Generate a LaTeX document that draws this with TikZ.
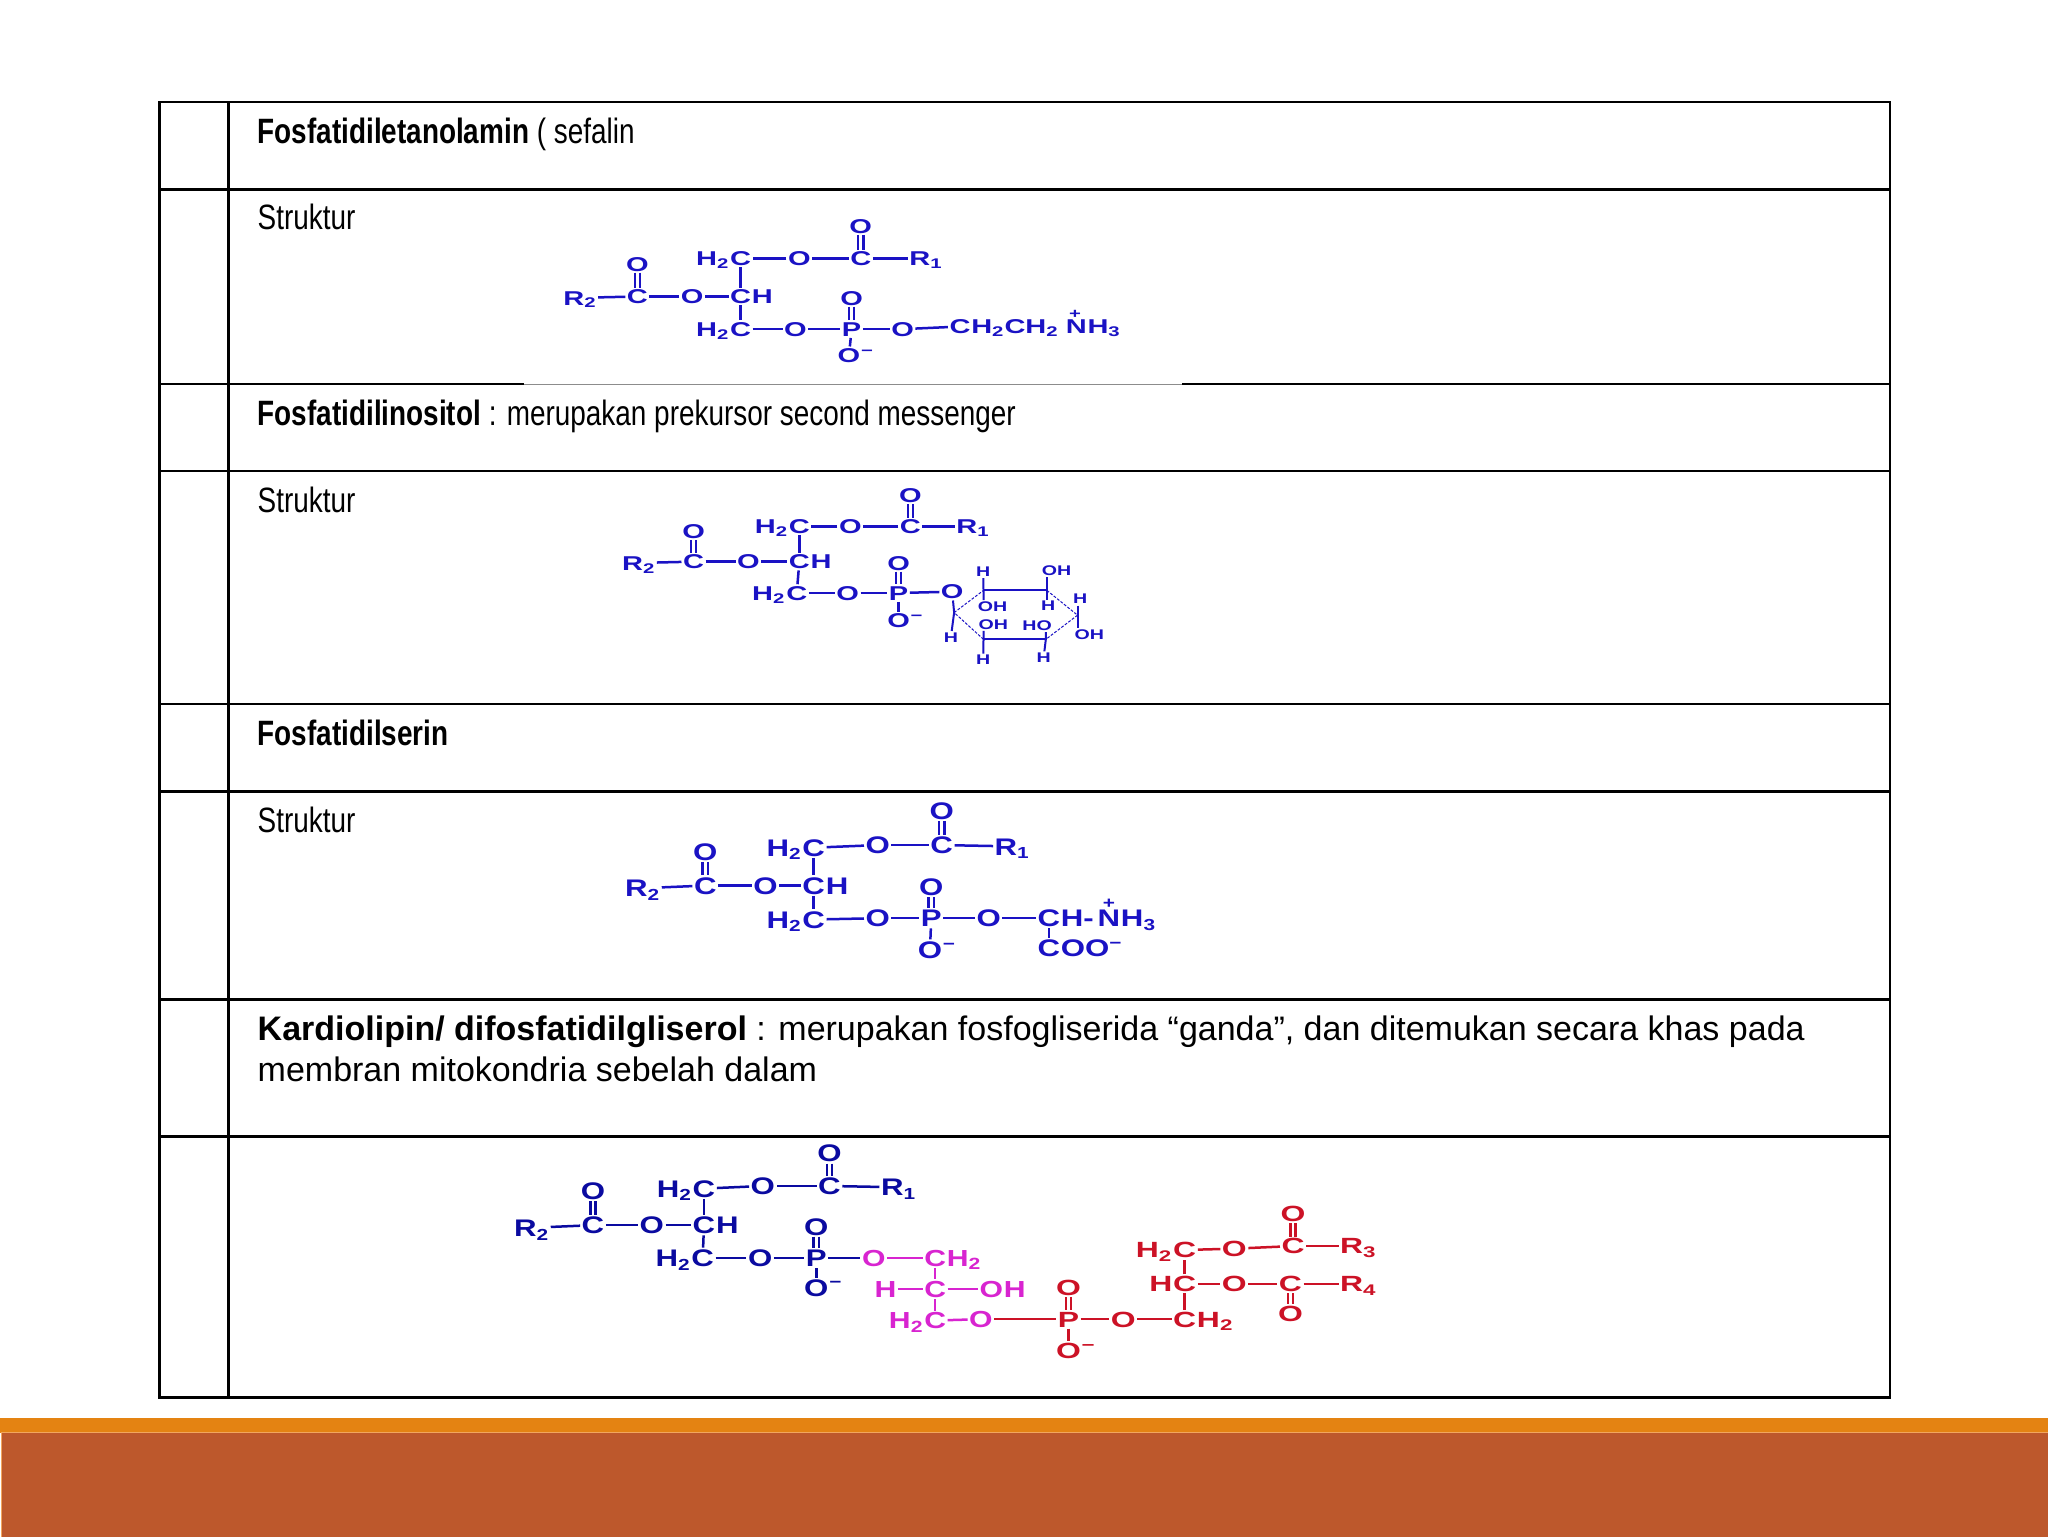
\documentclass[tikz,border=0pt]{standalone}
\usepackage{fontspec}
\setmainfont{Liberation Sans}
\newfontfamily\narrowf[FakeStretch=0.793]{Liberation Sans}
\newfontfamily\molwide[FakeStretch=1.45]{Liberation Sans}
\newfontfamily\molmid[FakeStretch=1.3]{Liberation Sans}
\newfontfamily\ringfont[FakeStretch=1.4]{Liberation Sans}
\definecolor{orangeband}{HTML}{E48312}
\definecolor{brownband}{HTML}{BD582C}
\definecolor{edgeband}{HTML}{F2A65E}
\definecolor{mblue}{HTML}{1A12C4}
\definecolor{mbluedark}{HTML}{0A0AA0}
\definecolor{mmag}{HTML}{D824D0}
\definecolor{mred}{HTML}{CC1226}
\def\molsz{10}
\def\molf{\molmid}
\def\asep{0.6pt}
\tikzset{
  x=0.65306pt,y=-0.65306pt,
  rule/.style={black,line width=1.35pt},
  head/.style={anchor=base west,inner sep=0,font=\narrowf\fontsize{17.6}{20}\selectfont},
  body/.style={anchor=base west,inner sep=0,font=\fontsize{17}{20}\selectfont},
  atom/.style={inner sep=\asep,font=\molf\bfseries\fontsize{\molsz}{\molsz}\selectfont,text height=\molsz*0.72pt,text depth=0pt},
  atomtail/.style={anchor=base west,inner sep=0,xshift=-\asep,font=\molf\bfseries\fontsize{\molsz}{\molsz}\selectfont},
  atomhead/.style={anchor=base east,inner sep=0,xshift=\asep,font=\molf\bfseries\fontsize{\molsz}{\molsz}\selectfont},
  bondl/.style={line width=1.25pt},
  ringlab/.style={inner sep=0.6pt,font=\ringfont\bfseries\fontsize{7}{7}\selectfont},
  ringfront/.style={line width=1pt},
  ringback/.style={line width=0.5pt,dash pattern=on 1.4pt off 0.8pt}
}
\newcommand{\atm}[3]{\node[atom] (#1) at (#2) {#3};}
\newcommand{\tl}[2]{\node[atomtail] (#1t) at (#1.base east) {#2};}
\newcommand{\hd}[2]{\node[atomhead] (#1h) at (#1.base west) {#2};}
\newcommand{\bnd}[2]{\draw[bondl] (#1) -- (#2);}
\newcommand{\dbl}[2]{\draw[bondl,transform canvas={xshift=-1.3pt}] (#1) -- (#2);\draw[bondl,transform canvas={xshift=1.3pt}] (#1) -- (#2);}
\newcommand{\Rs}[1]{R\textsubscript{#1}}
\newcommand{\sub}[1]{\textsubscript{#1}}
\newcommand{\sm}{\textsuperscript{−}}
\begin{document}
\begin{tikzpicture}
\path[use as bounding box,fill=white] (0,0) rectangle (1568,1176);
% footer
\fill[orangeband] (0,1086) rectangle (1568,1097);
\fill[brownband,draw=edgeband,line width=0.6pt] (1,1097) rectangle (1569,1177);
% table
\draw[rule] (122,78) rectangle (1447,1070);
\draw[rule] (175,78) -- (175,1070);
\foreach \yy in {145,360.5,539,606,765,870}{\draw[rule] (122,\yy) -- (1447,\yy);}
\draw[rule] (122,294) -- (401,294);
\draw[rule] (905,294) -- (1447,294);
\draw[black!45,line width=0.5pt] (401,294.5) -- (905,294.5);
% texts
\node[head] (t1) at (197,110) {\textbf{Fosfatidiletanolamin} ( sefalin};
\node[head] (t2) at (197,176) {Struktur};
\node[head] (t3) at (197,326) {\textbf{Fosfatidilinositol} : merupakan prekursor second messenger};
\node[head] (t4) at (197,392) {Struktur};
\node[head] (t5) at (197,571) {\textbf{Fosfatidilserin}};
\node[head] (t6) at (197,637) {Struktur};
\node[body] (t7) at (197,797) {\textbf{Kardiolipin/ difosfatidilgliserol} : merupakan fosfogliserida “ganda”, dan ditemukan secara khas pada};
\node[body] (t8) at (197,828) {membran mitokondria sebelah dalam};
% molecule 1
\begin{scope}[color=mblue]
\def\molsz{10}\def\molf{\molwide}
\atm{ao1}{659,173}{O}\atm{ac1}{659,198}{C}\atm{ao2}{612,198}{O}\atm{ag1}{567,198}{C}\atm{ar1}{709,198}{\Rs{1}}
\hd{ag1}{H\sub{2}}
\atm{ao3}{488,202}{O}\atm{ac2}{488,227}{C}\atm{ar2}{444,228}{\Rs{2}}\atm{ao4}{530,227}{O}\atm{ag2}{567,227}{C}\tl{ag2}{H}
\atm{ag3}{567,252}{C}\hd{ag3}{H\sub{2}}\atm{ao5}{609,252}{O}\atm{ap}{652,252}{P}\atm{ao7}{652,228}{O}\atm{ao6}{691,252}{O}
\atm{ao8}{650,272}{O}\tl{ao8}{\sm}
\atm{ach}{735,250}{C}\tl{ach}{H\sub{2}CH\sub{2}}\atm{an}{824,250}{N}\tl{an}{H\sub{3}}
\node[inner sep=0,font=\molf\bfseries\fontsize{7}{7}\selectfont] (aplus) at (823,241) {+};
\dbl{ao1}{ac1}\bnd{ac1}{ao2}\bnd{ao2}{ag1}\bnd{ac1}{ar1}\dbl{ao3}{ac2}\bnd{ar2}{ac2}\bnd{ac2}{ao4}\bnd{ao4}{ag2}
\bnd{ag1}{ag2}\bnd{ag2}{ag3}\bnd{ag3}{ao5}\bnd{ao5}{ap}\dbl{ao7}{ap}\bnd{ap}{ao6}\bnd{ap}{ao8}\bnd{ao6}{ach}
\end{scope}
% molecule 2
\begin{scope}[color=mblue]
\def\molsz{10}\def\molf{\molwide}
\atm{bo1}{697,379}{O}\atm{bc1}{697,403}{C}\atm{bo2}{651,403}{O}\atm{bg1}{612,403}{C}\hd{bg1}{H\sub{2}}\atm{br1}{745,403}{\Rs{1}}
\atm{bo3}{531,407}{O}\atm{bc2}{531,430}{C}\atm{br2}{489,431}{\Rs{2}}\atm{bo4}{573,430}{O}\atm{bg2}{612,430}{C}\tl{bg2}{H}
\atm{bg3}{610,454}{C}\hd{bg3}{H\sub{2}}\atm{bo5}{649,454}{O}\atm{bp}{688,454}{P}\atm{bo7}{688,431}{O}\atm{bo8}{688,475}{O}\tl{bo8}{\sm}\atm{bo6}{729,453}{O}
\dbl{bo1}{bc1}\bnd{bc1}{bo2}\bnd{bo2}{bg1}\bnd{bc1}{br1}\dbl{bo3}{bc2}\bnd{br2}{bc2}\bnd{bc2}{bo4}\bnd{bo4}{bg2}
\bnd{bg1}{bg2}\bnd{bg2}{bg3}\bnd{bg3}{bo5}\bnd{bo5}{bp}\dbl{bo7}{bp}\bnd{bp}{bo6}\bnd{bp}{bo8}
\coordinate (rl) at (730.5,469);\coordinate (rt1) at (753,452);\coordinate (rt2) at (801.5,452);
\coordinate (rr) at (825,471);\coordinate (rb2) at (800.7,489.5);\coordinate (rb1) at (753,489.5);
\draw[ringfront] (rt1) -- (rt2);\draw[ringfront] (rb1) -- (rb2);
\draw[ringback] (rl) -- (rt1);\draw[ringback] (rt2) -- (rr);\draw[ringback] (rr) -- (rb2);\draw[ringback] (rb1) -- (rl);
\node[ringlab] (rh1) at (752.7,437.7) {H};\node[ringlab] (roh1) at (809,437) {OH};
\node[ringlab] (roh2) at (760,464.5) {OH};\node[ringlab] (rh2) at (802.5,464) {H};
\node[ringlab] (rh3) at (827,458.7) {H};\node[ringlab] (roh3) at (834,486) {OH};
\node[ringlab] (roh4) at (760.5,478) {OH};\node[ringlab] (rho) at (794,479) {HO};
\node[ringlab] (rh4) at (728,488) {H};\node[ringlab] (rh5) at (752.7,505.4) {H};\node[ringlab] (rh6) at (799,503.6) {H};
\draw[ringfront] (rh1) -- (rt1) -- (roh2.north -| rt1);
\draw[ringfront] (roh1.south -| rt2) -- (rt2) -- (rh2.north -| rt2);
\draw[ringfront] (rh3.south -| rr) -- (rr) -- (roh3.north -| rr);
\draw[ringfront] (bo6) -- (rl) -- (rh4);
\draw[ringfront] (roh4.south -| rb1) -- (rb1) -- (rh5);
\draw[ringfront] (rho.south -| rb2) -- (rb2) -- (rh6);
\end{scope}
% molecule 3
\begin{scope}[color=mblue]
\def\molsz{12}\def\molf{\molmid}
\atm{co1}{721,621}{O}\atm{cc1}{721,647}{C}\atm{co2}{672,647}{O}\atm{cg1}{623,649}{C}\hd{cg1}{H\sub{2}}\atm{cr1}{775,648}{\Rs{1}}
\atm{co3}{540,652}{O}\atm{cc2}{540,678}{C}\atm{cr2}{492,680}{\Rs{2}}\atm{co4}{586,678}{O}\atm{cg2}{623,678}{C}\tl{cg2}{H}
\atm{cg3}{623,704}{C}\hd{cg3}{H\sub{2}}\atm{co5}{672,703}{O}\atm{cp}{713,703}{P}\atm{co7}{713,679}{O}\atm{co8}{712,727}{O}\tl{co8}{\sm}\atm{co6}{757,703}{O}
\atm{cch}{803,703}{C}\tl{cch}{H-}\atm{cn}{849,703}{N}\tl{cn}{H\sub{3}}
\node[inner sep=0,font=\molf\bfseries\fontsize{8}{8}\selectfont] (cplus) at (849,692) {+};
\atm{cc3}{803,726}{C}\tl{cc3}{OO\sm}
\dbl{co1}{cc1}\bnd{cc1}{co2}\bnd{co2}{cg1}\bnd{cc1}{cr1}\dbl{co3}{cc2}\bnd{cr2}{cc2}\bnd{cc2}{co4}\bnd{co4}{cg2}
\bnd{cg1}{cg2}\bnd{cg2}{cg3}\bnd{cg3}{co5}\bnd{co5}{cp}\dbl{co7}{cp}\bnd{cp}{co6}\bnd{cp}{co8}\bnd{co6}{cch}\bnd{cch}{cc3}
\end{scope}
% molecule 4 blue
\begin{scope}[color=mbluedark]
\def\molsz{12}\def\molf{\molmid}
\atm{do1}{635,883}{O}\atm{dc1}{635,908}{C}\atm{do2}{584,908}{O}\atm{dg1}{539,910}{C}\hd{dg1}{H\sub{2}}\atm{dr1}{688,909}{\Rs{1}}
\atm{do3}{454,912}{O}\atm{dc2}{454,938}{C}\atm{dr2}{407,940}{\Rs{2}}\atm{do4}{499,938}{O}\atm{dg2}{539,938}{C}\tl{dg2}{H}
\atm{dg3}{538,963}{C}\hd{dg3}{H\sub{2}}\atm{do5}{582,963}{O}\atm{dp}{625,963}{P}\atm{do7}{625,939}{O}\atm{do8}{625,986}{O}\tl{do8}{\sm}
\dbl{do1}{dc1}\bnd{dc1}{do2}\bnd{do2}{dg1}\bnd{dc1}{dr1}\dbl{do3}{dc2}\bnd{dr2}{dc2}\bnd{dc2}{do4}\bnd{do4}{dg2}
\bnd{dg1}{dg2}\bnd{dg2}{dg3}\bnd{dg3}{do5}\bnd{do5}{dp}\dbl{do7}{dp}\bnd{dp}{do8}
\end{scope}
% molecule 4 magenta
\begin{scope}[color=mmag]
\def\molsz{11.6}\def\molf{\molmid}
\atm{eo1}{669,963}{O}\atm{ec1}{716,963}{C}\tl{ec1}{H\sub{2}}
\atm{ec2}{716,987}{C}\atm{eh}{678,987}{H}\atm{eoh}{759,987}{O}\tl{eoh}{H}
\atm{ec3}{716,1011}{C}\hd{ec3}{H\sub{2}}\atm{eo2}{751,1010}{O}
\bnd{eo1}{ec1}\bnd{ec1}{ec2}\bnd{eh}{ec2}\bnd{ec2}{eoh}\bnd{ec2}{ec3}\bnd{ec3}{eo2}
\end{scope}
\draw[mbluedark,bondl] (dp) -- (eo1);
% molecule 4 red
\begin{scope}[color=mred]
\def\molsz{11}\def\molf{\molwide}
\atm{fp}{818,1010}{P}\atm{fo1}{818,986}{O}\atm{fo2}{818,1034}{O}\tl{fo2}{\sm}\atm{fo3}{860,1010}{O}
\atm{fc1}{907,1010}{C}\tl{fc1}{H\sub{2}}\atm{fc2}{907,983}{C}\hd{fc2}{H}\atm{fo4}{945,983}{O}\atm{fc3}{988,983}{C}\atm{fr4}{1040,983}{R\sub{4}}\atm{fo5}{988,1006}{O}
\atm{fc4}{907,957}{C}\hd{fc4}{H\sub{2}}\atm{fo6}{945,956}{O}\atm{fc5}{990,954}{C}\atm{fo7}{990,929}{O}\atm{fr3}{1040,954}{R\sub{3}}
\bnd{eo2}{fp}\dbl{fo1}{fp}\bnd{fp}{fo2}\bnd{fp}{fo3}\bnd{fo3}{fc1}\bnd{fc1}{fc2}\bnd{fc2}{fo4}\bnd{fo4}{fc3}\bnd{fc3}{fr4}\dbl{fc3}{fo5}
\bnd{fc2}{fc4}\bnd{fc4}{fo6}\bnd{fo6}{fc5}\dbl{fc5}{fo7}\bnd{fc5}{fr3}
\end{scope}
\end{tikzpicture}
\end{document}
